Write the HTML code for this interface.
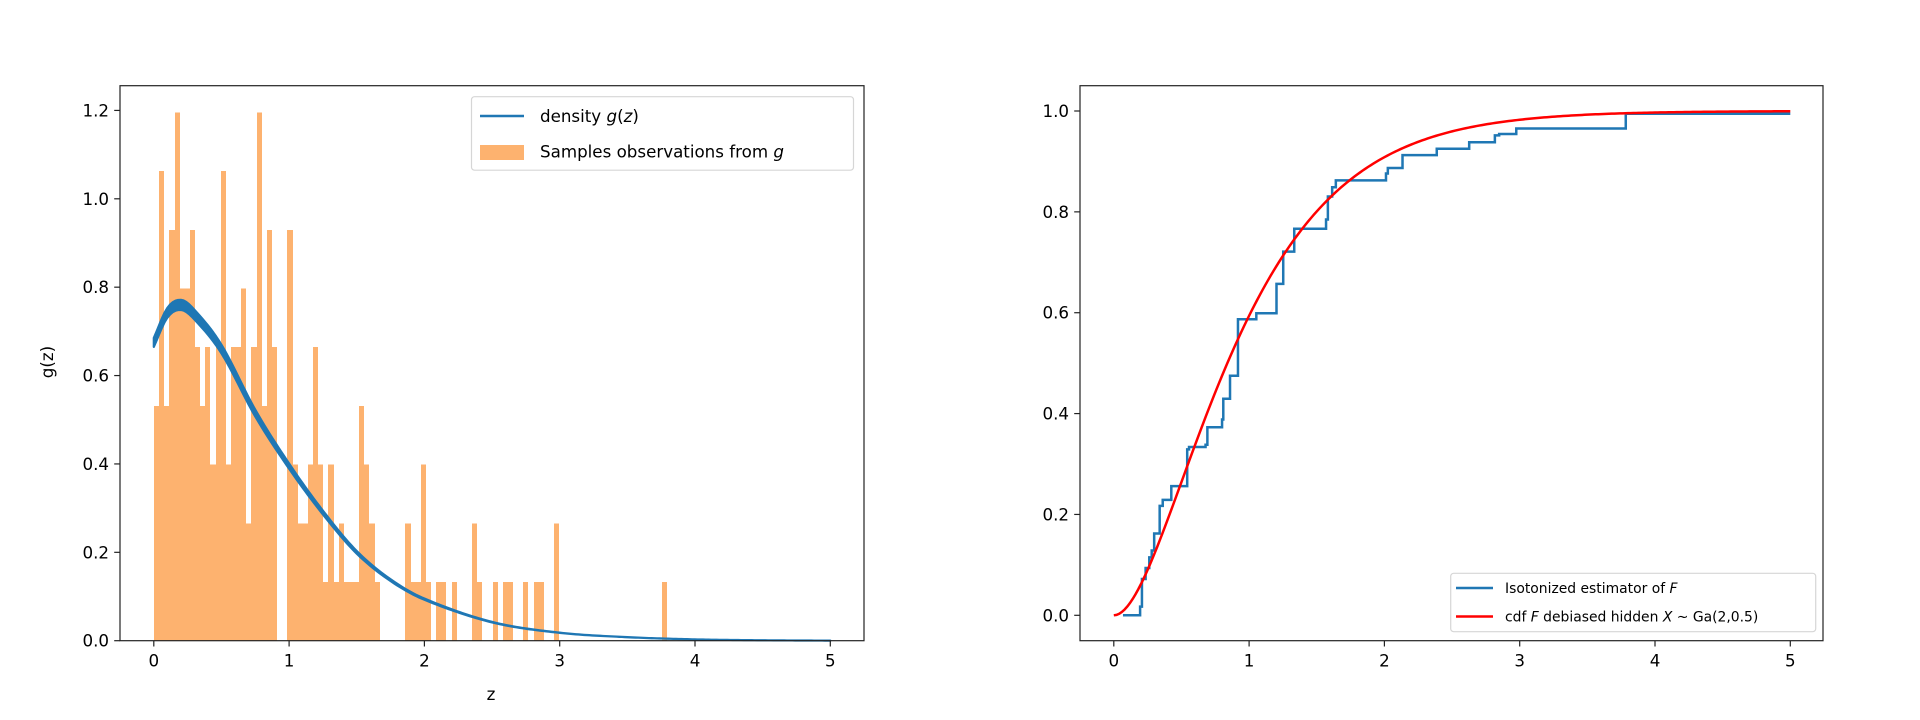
<!DOCTYPE html>
<html><head><meta charset="utf-8"><style>
html,body{margin:0;padding:0;background:#fff;}
svg{display:block;font-family:"DejaVu Sans","Liberation Sans",sans-serif;}
</style></head><body>
<svg id="s" width="1920" height="720" viewBox="0 0 1920 720" xmlns="http://www.w3.org/2000/svg">
<rect width="1920" height="720" fill="#fff"/>
<g id="bars" fill="#fdb26f" shape-rendering="crispEdges"></g>
<path id="gband" fill="#1f77b4" stroke="#1f77b4" stroke-width="2.2" stroke-linejoin="round"/>
<path id="step" fill="none" stroke="#1f77b4" stroke-width="2.5"/>
<path id="cdf" fill="none" stroke="#ff0000" stroke-width="2.5"/>
<g id="axes" stroke="#222" stroke-width="1.2" fill="none">
<rect x="120" y="85.7" width="744" height="555"/>
<rect x="1080" y="85.7" width="743" height="555"/>
</g>
<g id="ticks" stroke="#222" stroke-width="1.2"></g>
<g id="labels" font-size="16.7" fill="#000"></g>
<text x="491" y="700" font-size="16.7" text-anchor="middle">z</text>
<text transform="translate(53,362) rotate(-90)" font-size="16.7" text-anchor="middle">g(z)</text>
<rect x="471.5" y="96.7" width="382" height="73.5" rx="3" fill="#fff" fill-opacity="0.8" stroke="#d6d6d6" stroke-width="1.2"/>
<line x1="480" y1="116" x2="524" y2="116" stroke="#1f77b4" stroke-width="2.5"/>
<text x="540" y="122" font-size="16.7">density <tspan font-style="italic">g</tspan>(<tspan font-style="italic">z</tspan>)</text>
<rect x="480" y="145" width="44" height="15" fill="#fdb26f"/>
<text x="540" y="157.5" font-size="16.7">Samples observations from <tspan font-style="italic">g</tspan></text>
<rect x="1450.7" y="573.3" width="365" height="58.4" rx="3" fill="#fff" fill-opacity="0.8" stroke="#d6d6d6" stroke-width="1.2"/>
<line x1="1456" y1="588" x2="1493" y2="588" stroke="#1f77b4" stroke-width="2.5"/>
<text x="1505" y="593" font-size="13.9">Isotonized estimator of <tspan font-style="italic">F</tspan></text>
<line x1="1456" y1="616.5" x2="1493" y2="616.5" stroke="#ff0000" stroke-width="2.5"/>
<text x="1505" y="621.5" font-size="13.9">cdf <tspan font-style="italic">F</tspan> debiased hidden <tspan font-style="italic">X</tspan> ~  Ga(2,0.5)</text>
</svg>
<script>
(function(){
var NS="http://www.w3.org/2000/svg";
function el(p,t,a,txt){var e=document.createElementNS(NS,t);for(var k in a)e.setAttribute(k,a[k]);if(txt!=null)e.textContent=txt;p.appendChild(e);return e;}
var LX=function(z){return 153.8+135.3*z;}, LY=function(v){return 640.7-441.9*v;};
var RX=function(z){return 1113.8+135.3*z;}, RY=function(v){return 615.3-504.3*v;};
var lv=[4,8,4,7,9,6,6,7,5,4,5,3,5,8,3,5,5,6,2,5,9,4,7,5,0,0,7,3,2,2,3,5,3,1,3,1,2,1,1,1,4,3,2,1,0,0,0,0,0,2,1,1,3,1,0,1,1,0,1,0,0,0,2,1,0,0,1,0,1,1,0,0,1,0,1,1,0,0,2];
while(lv.length<99)lv.push(0);lv.push(1);
var bg=document.getElementById('bars');
for(var k=0;k<lv.length;k++){if(!lv[k])continue;var h=lv[k]*58.7;var x0=Math.round(154+5.13*k),x1=Math.round(154+5.13*(k+1));el(bg,'rect',{x:x0,y:(640.7-h).toFixed(2),width:x1-x0,height:h.toFixed(2)});}
var pts=[[0,0.675],[0.1,0.742],[0.2,0.76],[0.3,0.738],[0.5,0.66],[0.75,0.515],[1,0.395],[1.25,0.29],[1.5,0.2],[1.75,0.137],[2,0.094],[2.5,0.042],[3,0.018],[3.5,0.008],[4,0.003],[4.5,0.001],[5,0.0002]];
function g(z){for(var i=0;i<pts.length-1;i++){var a=pts[i],b=pts[i+1];if(z<=b[0]){var m0=i>0?(b[1]-pts[i-1][1])/(b[0]-pts[i-1][0]):(b[1]-a[1])/(b[0]-a[0]);var c=pts[i+2]||b;var m1=i<pts.length-2?(c[1]-a[1])/(c[0]-a[0]):(b[1]-a[1])/(b[0]-a[0]);var hh=b[0]-a[0],t=(z-a[0])/hh;var t2=t*t,t3=t2*t;return (2*t3-3*t2+1)*a[1]+(t3-2*t2+t)*hh*m0+(-2*t3+3*t2)*b[1]+(t3-t2)*hh*m1;}}return 0;}
var up=[],dn=[];
for(var z=0;z<=5.0001;z+=0.02){var v=g(z);up.push(LX(z).toFixed(2)+','+LY(v*1.015).toFixed(2));dn.push(LX(z).toFixed(2)+','+LY(v*0.985).toFixed(2));}
dn.reverse();
document.getElementById('gband').setAttribute('d','M'+up.join('L')+'L'+dn.join('L')+'Z');
var c=[];for(var z=0;z<=5.0001;z+=0.02){var F=1-Math.exp(-2*z)*(1+2*z);c.push(RX(z).toFixed(2)+','+RY(F).toFixed(2));}
document.getElementById('cdf').setAttribute('d','M'+c.join('L'));
var st=[[265,1341],[293,1341],[293,1322],[296,1322],[296,1262],[302,1262],[302,1238],[308,1238],[308,1215],[312,1215],[312,1200],[316,1200],[316,1163],[325,1163],[325,1103],[330,1103],[330,1090],[344,1090],[344,1060],[370,1060],[370,980],[373,980],[373,975],[400,975],[400,970],[403,970],[403,932],[427,932],[427,915],[429,915],[429,870],[440,870],[440,820],[453,820],[453,697],[483,697],[483,684],[516,684],[516,620],[527,620],[527,550],[545,550],[545,500],[597,500],[597,480],[600,480],[600,430],[607,430],[607,410],[613,410],[613,395],[695,395],[695,380],[698,380],[698,368],[722,368],[722,340],[778,340],[778,326],[831,326],[831,312],[873,312],[873,297],[880,297],[880,294],[908,294],[908,282],[1087,282],[1087,250],[1356,250]];
var sp=st.map(function(p){var z=(p[0]-250)/221.2,v=(1341-p[1])/1097;return RX(z).toFixed(2)+','+RY(v).toFixed(2);});
document.getElementById('step').setAttribute('d','M'+sp.join('L'));
var tg=document.getElementById('ticks'),lg=document.getElementById('labels');
for(var i=0;i<=5;i++){[LX(i),RX(i)].forEach(function(x){el(tg,'line',{x1:x,y1:640.7,x2:x,y2:646.5});el(lg,'text',{x:x,y:666.7,'text-anchor':'middle'},String(i));});}
for(var i=0;i<=6;i++){var v=i*0.2,y=LY(v);el(tg,'line',{x1:120,y1:y,x2:114.2,y2:y});el(lg,'text',{x:109,y:y+6,'text-anchor':'end'},v.toFixed(1));}
for(var i=0;i<=5;i++){var v=i*0.2,y=RY(v);el(tg,'line',{x1:1080,y1:y,x2:1074.2,y2:y});el(lg,'text',{x:1069,y:y+6,'text-anchor':'end'},v.toFixed(1));}
})();
</script>
</body></html>
